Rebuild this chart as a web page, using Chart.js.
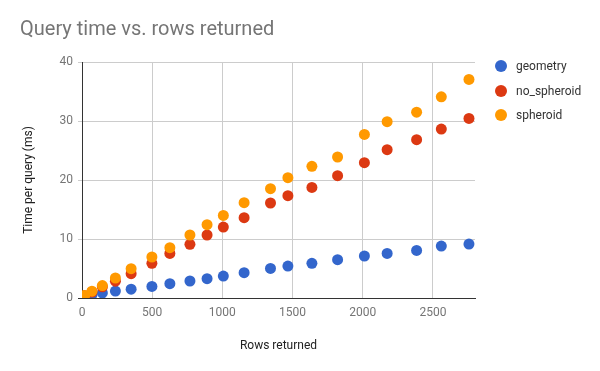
<!DOCTYPE html>
<html>
<head>
<meta charset="utf-8">
<script src="https://cdn.jsdelivr.net/npm/chart.js@4"></script>
<style>
  body { margin: 0; background: #fff; }
  #wrap { position: relative; width: 600px; height: 371px; }
  #legend { position: absolute; left: 495px; top: 54px; font: 12px Roboto, sans-serif; color: #333; }
  .item { height: 24.5px; display: flex; align-items: center; }
  .dot { width: 12px; height: 12px; border-radius: 50%; margin-right: 9px; }
</style>
</head>
<body>
<div id="wrap">
  <canvas id="chart" width="600" height="371"></canvas>
  <div id="legend"></div>
</div>
<script>
// rows returned (x) shared by all series
const rows = [19, 71, 145, 238, 350, 498, 626, 769, 891, 1007, 1155, 1343, 1467, 1638, 1821, 2012, 2174, 2384, 2560, 2757];
const geometry = [0.3, 0.55, 0.85, 1.18, 1.5, 1.97, 2.42, 2.88, 3.27, 3.72, 4.29, 5.02, 5.42, 5.87, 6.49, 7.12, 7.56, 8.07, 8.81, 9.15];
const noSpheroid = [0.4, 1.0, 1.9, 2.85, 4.12, 5.87, 7.56, 9.09, 10.68, 12.03, 13.61, 16.1, 17.34, 18.75, 20.73, 22.93, 25.14, 26.83, 28.64, 30.44];
const spheroid = [0.44, 1.15, 2.1, 3.39, 4.97, 6.95, 8.53, 10.68, 12.42, 14.0, 16.15, 18.53, 20.39, 22.31, 23.9, 27.73, 29.88, 31.5, 34.1, 37.05];

const xTicks = [0, 500, 1000, 1500, 2000, 2500];
const yTicks = [0, 10, 20, 30, 40];

const seriesNames = ['geometry', 'no_spheroid', 'spheroid'];
const seriesValues = [geometry, noSpheroid, spheroid];
const colors = ['#3366cc', '#dc3912', '#ff9900'];

Chart.defaults.font.family = 'Roboto, sans-serif';

const datasets = seriesNames.map((name, i) => ({
  label: name,
  data: rows.map((x, j) => ({ x: x, y: seriesValues[i][j] })),
  backgroundColor: colors[i],
  pointRadius: 5.5,
  pointBorderWidth: 0,
  order: seriesNames.length - i
}));

const gridColor = ctx => ctx.tick && ctx.tick.value === 0 ? 'rgba(0,0,0,0)' : '#cccccc';

new Chart(document.getElementById('chart'), {
  type: 'scatter',
  data: { datasets },
  options: {
    responsive: false,
    animation: false,
    devicePixelRatio: 1,
    layout: { padding: { left: 20, right: 125, top: 0, bottom: 0 } },
    plugins: {
      legend: { display: false },
      tooltip: { enabled: false },
      title: {
        display: true,
        text: 'Query time vs. rows returned',
        align: 'start',
        color: '#757575',
        font: { size: 20, weight: 'normal' },
        padding: { top: 18, bottom: 20 }
      }
    },
    scales: {
      x: {
        type: 'linear',
        min: 0,
        max: 2800,
        afterBuildTicks: s => { s.ticks = xTicks.map(v => ({ value: v })); },
        afterFit: s => { s.height = 73; },
        ticks: { color: '#757575', font: { size: 12 }, padding: 8, callback: v => String(v) },
        grid: { color: gridColor, drawTicks: false },
        border: { color: '#333333' },
        title: { display: true, text: 'Rows returned', color: '#222222', font: { size: 12 }, padding: { top: 0, bottom: 18 } }
      },
      y: {
        min: 0,
        max: 40,
        afterBuildTicks: s => { s.ticks = yTicks.map(v => ({ value: v })); },
        afterFit: s => { s.width = 62; },
        ticks: { color: '#757575', font: { size: 12 }, padding: 5, callback: v => String(v) },
        grid: {
          color: gridColor,
          tickLength: 4,
          tickColor: ctx => ctx.tick && ctx.tick.value === 0 ? '#333333' : '#cccccc'
        },
        border: { color: '#333333' },
        title: { display: true, text: 'Time per query (ms)', color: '#222222', font: { size: 12 }, padding: { top: 2, bottom: 0 } }
      }
    }
  }
});

// legend
const legend = document.getElementById('legend');
seriesNames.forEach((name, i) => {
  const item = document.createElement('div');
  item.className = 'item';
  const dot = document.createElement('span');
  dot.className = 'dot';
  dot.style.background = colors[i];
  item.appendChild(dot);
  item.appendChild(document.createTextNode(name));
  legend.appendChild(item);
});
</script>
</body>
</html>
